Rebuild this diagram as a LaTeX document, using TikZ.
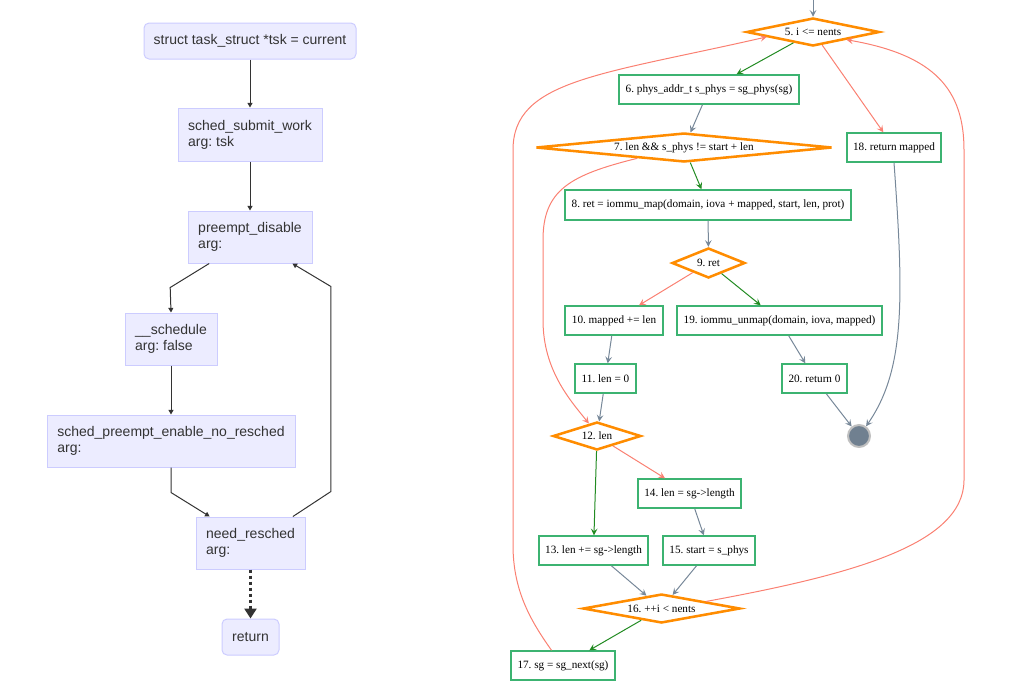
\documentclass[tikz,border=0pt]{standalone}
\usepackage{fontspec}
\setmainfont{Liberation Serif}
\newfontfamily\mermaidfont{Liberation Sans}
\usetikzlibrary{shapes.geometric,arrows.meta}
\frenchspacing

\definecolor{boxfill}{HTML}{ECECFF}
\definecolor{boxline}{HTML}{CCCCFF}
\definecolor{txtgray}{HTML}{333333}
\definecolor{stmtgreen}{HTML}{3CB371}
\definecolor{condorange}{HTML}{FF8C00}
\definecolor{truegreen}{HTML}{228B22}
\definecolor{falsered}{HTML}{FA8072}
\definecolor{flowgray}{HTML}{778899}
\definecolor{exitgray}{HTML}{708090}
\definecolor{exitring}{HTML}{C0C0C0}

\begin{document}
\begin{tikzpicture}[x=0.75pt, y=-0.75pt,
  callbox/.style={draw=boxline, fill=boxfill, line width=0.75pt, text=txtgray,
    font=\mermaidfont\fontsize{10.5}{12}\selectfont, inner sep=0pt, align=left},
  call/.style={draw=txtgray, line width=0.75pt, -{Triangle[length=3.5pt, width=3.75pt]}},
  stmt/.style={draw=stmtgreen, line width=1.1pt, fill=white, inner sep=0pt,
    minimum height=21.75pt, font=\fontsize{8.4}{10}\selectfont},
  cond/.style={diamond, draw=condorange, line width=1.9pt, fill=white, inner sep=0pt,
    font=\fontsize{8.4}{10}\selectfont},
  plainarc/.style={draw=flowgray, line width=0.75pt, -{Stealth[length=5pt, width=5pt, inset=2pt]}},
  truearc/.style={plainarc, draw=truegreen},
  falsearc/.style={plainarc, draw=falsered}]

  % Page
  \useasboundingbox (0,0) rectangle (1020,687);

  % Left: call chain
  \node[callbox, rounded corners=3.75pt, minimum width=159pt, minimum height=27pt] (tsk) at (250,41) {struct task\_struct *tsk = current};
  \node[callbox, minimum width=108pt, minimum height=39.75pt] (submit) at (250,134.5) {sched\_submit\_work\\arg: tsk};
  \node[callbox, minimum width=93pt, minimum height=39pt] (disable) at (250,237) {preempt\_disable\\arg:};
  \node[callbox, minimum width=69pt, minimum height=39pt] (schedule) at (171,339) {\_\_schedule\\arg: false};
  \node[callbox, minimum width=186pt, minimum height=39pt] (enable) at (171,441) {sched\_preempt\_enable\_no\_resched\\arg:};
  \node[callbox, minimum width=81.75pt, minimum height=39pt] (need) at (250.5,543) {need\_resched\\arg:};
  \node[callbox, rounded corners=3.75pt, minimum width=42.75pt, minimum height=27pt] (ret) at (250.5,637) {return};

  % Left: calls
  \draw[call] (tsk) -- (submit);
  \draw[call] (submit) -- (disable);
  \draw[call] (disable.213) -- ++(-39,24) -- (schedule.north);
  \draw[call] (schedule) -- (enable);
  \draw[call] (enable.south) -- ++(0,25) -- (need.147);
  \draw[call] (need.32) -- ++(38,-25) -- ++(0,-205) -- (disable.-32);
  \draw[draw=txtgray, line width=2.25pt, dash pattern=on 2.25pt off 2.25pt,
    -{Triangle[length=7.5pt, width=9pt]}] (need) -- (ret);

  % Right: control flow graph
  \coordinate (entry) at (813,0);
  \node[cond, minimum width=99.75pt, minimum height=21pt, aspect=4.75] (c5) at (813,32) {5. i <= nents};
  \node[stmt, minimum width=135pt] (s6) at (709,89.5) {6. phys\_addr\_t s\_phys = sg\_phys(sg)};
  \node[cond, minimum width=222pt, minimum height=21.75pt, aspect=10.2] (c7) at (684,147.5) {7. len \&\& s\_phys != start + len};
  \node[stmt, minimum width=70.5pt] (s18) at (894,147.5) {18. return mapped};
  \node[stmt, minimum width=214.5pt, minimum height=22.5pt] (s8) at (708,205) {8. ret = iommu\_map(domain, iova + mapped, start, len, prot)};
  \node[cond, minimum width=54.75pt, minimum height=22.5pt, aspect=2.43] (c9) at (708.5,263) {9. ret};
  \node[stmt, minimum width=73.5pt] (s10) at (614,320.5) {10. mapped += len};
  \node[stmt, minimum width=153.75pt] (s19) at (779.5,320.5) {19. iommu\_unmap(domain, iova, mapped)};
  \node[stmt, minimum width=45.75pt] (s11) at (605.5,378.5) {11. len = 0};
  \node[stmt, minimum width=48.75pt] (s20) at (814.5,378.5) {20. return 0};
  \node[circle, fill=exitgray, draw=exitring, line width=1.5pt, minimum size=16.5pt, inner sep=0pt] (exit) at (859,436) {};
  \node[cond, minimum width=66pt, minimum height=21pt, aspect=3.14] (c12) at (597,436) {12. len};
  \node[stmt, minimum width=77.25pt] (s14) at (689.5,493.5) {14. len = sg->length};
  \node[stmt, minimum width=81.75pt] (s13) at (593.5,550.5) {13. len += sg->length};
  \node[stmt, minimum width=69pt] (s15) at (709,550.5) {15. start = s\_phys};
  \node[cond, minimum width=117.75pt, minimum height=21.75pt, aspect=5.4] (c16) at (661.5,608.5) {16. ++i < nents};
  \node[stmt, minimum width=78pt] (s17) at (563,665.5) {17. sg = sg\_next(sg)};

  % Right: edges
  \draw[plainarc] (entry) -- (c5);
  \draw[truearc] (c5) -- (s6);
  \draw[falsearc] (c5) -- (s18);
  \draw[plainarc] (s6) -- (c7);
  \draw[truearc] (c7) -- (s8);
  \draw[falsearc] (c7.193) .. controls (570,175) and (543,190) .. (543,240) -- (543,320)
    .. controls (543,370) and (570,400) .. (c12.123);
  \draw[plainarc] (s8) -- (c9);
  \draw[falsearc] (c9) -- (s10);
  \draw[truearc] (c9) -- (s19);
  \draw[plainarc] (s10) -- (s11);
  \draw[plainarc] (s11) -- (c12);
  \draw[plainarc] (s19) -- (s20);
  \draw[plainarc] (s20) -- (exit);
  \draw[plainarc] (s18.south) .. controls (904,300) and (905,370) .. (exit.54);
  \draw[truearc] (c12) -- (s13);
  \draw[falsearc] (c12) -- (s14);
  \draw[plainarc] (s14) -- (s15);
  \draw[plainarc] (s13) -- (c16);
  \draw[plainarc] (s15) -- (c16);
  \draw[truearc] (c16) -- (s17);

  % Right: loop back to 5
  \draw[falsearc] (c16.9) .. controls (850,575) and (964,545) .. (964,480) -- (964,150)
    .. controls (964,90) and (935,55) .. (c5.-13);
  \draw[falsearc] (s17.127) .. controls (530,620) and (513,590) .. (513,545) -- (513,150)
    .. controls (513,80) and (600,75) .. (c5.186);

\end{tikzpicture}
\end{document}
